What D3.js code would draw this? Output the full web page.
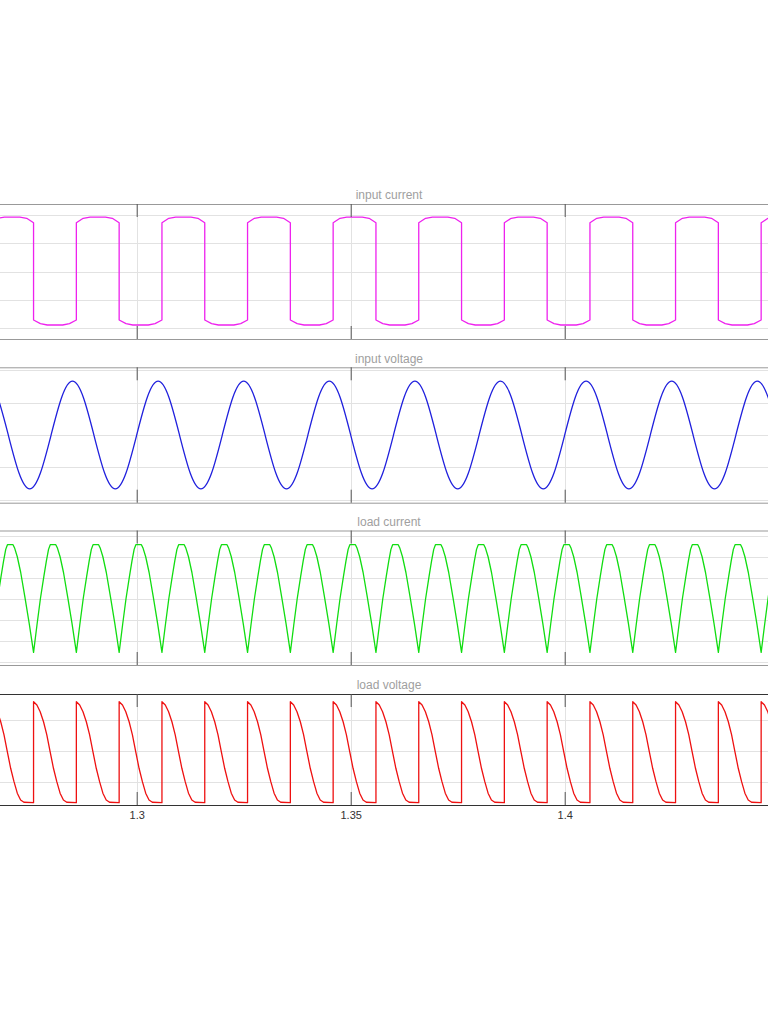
<!DOCTYPE html>
<html>
<head>
<meta charset="utf-8">
<script src="https://cdn.jsdelivr.net/npm/d3@7"></script>
<style>
  html, body { margin: 0; padding: 0; background: #fff; }
  svg { display: block; font-family: "Liberation Sans", Arial, sans-serif; }
</style>
</head>
<body>
<div id="scope"></div>
<script>
// switching instants (s): commutation of the input current, dips of the load
// current and jumps of the load voltage all happen here
const edgeTimes = [1.2659, 1.2759, 1.2859, 1.2959, 1.3059, 1.3159, 1.3259, 1.3359, 1.3459, 1.3559,
                   1.3659, 1.3759, 1.3859, 1.3959, 1.4059, 1.4159, 1.4259, 1.4359, 1.4459, 1.4559];

// input current (A): shape of one half-cycle between two edges
const currentPhase = [0, 0.16, 0.32, 0.68, 0.84, 1];
const currentHigh  = [17.4, 19.0, 19.4, 19.4, 19.0, 17.4];
const currentLow   = [-17.3, -18.6, -19.1, -19.1, -18.6, -17.3];

// input voltage (V): rising zero crossings, one mains period sampled every 1/8
const voltageStarts = [1.26, 1.28, 1.30, 1.32, 1.34, 1.36, 1.38, 1.40, 1.42, 1.44, 1.46];
const voltagePhase  = [0, 0.125, 0.25, 0.375, 0.5, 0.625, 0.75, 0.875];
const voltageValues = [0, 235, 333, 235, 0, -235, -333, -235];

// load current (A): one ripple between two dips
const loadCurrentPhase  = [0, 0.08, 0.16, 0.24, 0.30, 0.35, 0.39, 0.52, 0.56, 0.62, 0.70, 0.80, 0.90, 1];
const loadCurrentValues = [0.9, 3.5, 6.0, 8.1, 9.6, 10.7, 11.15, 11.15, 10.8, 10.0, 8.5, 6.1, 3.6, 0.9];

// load voltage (V): from one firing jump to the next
const loadVoltagePhase  = [0, 0.078, 0.155, 0.233, 0.31, 0.388, 0.465, 0.543, 0.62, 0.698, 0.775, 1];
const loadVoltageValues = [358.8, 348, 326.5, 294.5, 252, 198, 145, 102, 65, 43, 36, 34.5];

const panelTitles = ["input current", "input voltage", "load current", "load voltage"];
const panelTicks = [[-20, -10, 0, 10, 20], [-400, -200, 0, 200, 400], [0, 2, 4, 6, 8, 10, 12], [100, 200, 300]];
const panelDomains = [[-24.1, 24.1], [-419, 419], [-0.31, 12.5], [27.1, 383.5]];
const timeTicks = [1.25, 1.3, 1.35, 1.4, 1.45];

// lay a measured cycle shape between consecutive instants
function buildSeries(starts, phase, values) {
  const pts = [];
  for (let i = 0; i < starts.length - 1; i++) {
    const t0 = starts[i], span = starts[i + 1] - t0;
    const vals = typeof values === "function" ? values(i) : values;
    phase.forEach((p, j) => pts.push([t0 + p * span, vals[j]]));
  }
  return pts;
}

const inputCurrent = buildSeries(edgeTimes, currentPhase, i => (i % 2 === 0 ? currentHigh : currentLow));
const inputVoltage = buildSeries(voltageStarts, voltagePhase, voltageValues);
inputVoltage.push([voltageStarts[voltageStarts.length - 1], voltageValues[0]]);
const loadCurrent = buildSeries(edgeTimes, loadCurrentPhase, loadCurrentValues);
const loadVoltage = buildSeries(edgeTimes, loadVoltagePhase, loadVoltageValues);

const panels = [
  { data: inputCurrent, top: 204, bottom: 339, color: "#ee22ee", curve: d3.curveLinear, border: "#999" },
  { data: inputVoltage, top: 367.3, bottom: 502.7, color: "#2020dd", curve: d3.curveNatural, border: "#999" },
  { data: loadCurrent, top: 530.5, bottom: 665, color: "#11dd11", curve: d3.curveLinear, border: "#999" },
  { data: loadVoltage, top: 694, bottom: 805, color: "#ee1111", curve: d3.curveLinear, border: "#333" }
];

const width = 768, height = 1024;

const svg = d3.select("#scope")
  .append("svg")
  .attr("width", width)
  .attr("height", height);

// figure is wider than the window: 1.3 s sits at x=136.7 and 0.1 s spans 428 px
const x = d3.scaleLinear()
  .domain([1.25, 1.47])
  .range([136.7 - 0.05 * 4280, 136.7 + 0.17 * 4280]);
const [x0, x1] = x.range();

// only the ticks that fall inside the window get a label
const timeLabel = d => (x(d) > 0 && x(d) < width ? d3.format("")(d) : "");

panels.forEach((p, k) => {
  const y = d3.scaleLinear().domain(panelDomains[k]).range([p.bottom, p.top]);
  const g = svg.append("g");

  // horizontal grid
  g.append("g")
    .attr("transform", `translate(${x0},0)`)
    .call(d3.axisLeft(y).tickValues(panelTicks[k]).tickSize(-(x1 - x0)).tickFormat(""))
    .call(a => a.select(".domain").remove())
    .call(a => a.selectAll("line").attr("stroke", "#e2e2e2").attr("shape-rendering", "crispEdges"));

  // vertical grid
  g.append("g")
    .attr("transform", `translate(0,${p.bottom})`)
    .call(d3.axisBottom(x).tickValues(timeTicks).tickSize(-(p.bottom - p.top)).tickFormat(""))
    .call(a => a.select(".domain").remove())
    .call(a => a.selectAll("line").attr("stroke", "#e2e2e2").attr("shape-rendering", "crispEdges"));

  g.append("path")
    .datum(p.data)
    .attr("fill", "none")
    .attr("stroke", p.color)
    .attr("stroke-width", 1.3)
    .attr("stroke-linejoin", "round")
    .attr("d", d3.line().x(d => x(d[0])).y(d => y(d[1])).curve(p.curve));

  // frame with inward ticks
  g.append("g")
    .attr("transform", `translate(0,${p.top})`)
    .attr("color", p.border)
    .call(d3.axisTop(x).tickValues(timeTicks).tickSizeInner(-13).tickSizeOuter(0).tickFormat(""))
    .call(a => a.selectAll(".tick line").attr("stroke", "#555"));

  const last = k === panels.length - 1;
  const bottomAxis = g.append("g")
    .attr("transform", `translate(0,${p.bottom})`)
    .attr("color", p.border)
    .call(d3.axisBottom(x).tickValues(timeTicks).tickSizeInner(-13).tickSizeOuter(0).tickPadding(6)
      .tickFormat(last ? timeLabel : ""))
    .call(a => a.selectAll(".tick line").attr("stroke", "#555"));
  bottomAxis.selectAll("text")
    .attr("fill", "#333")
    .style("font-size", "11px")
    .style("font-family", "\"Liberation Sans\", Arial, sans-serif");

  g.append("text")
    .attr("x", 389)
    .attr("y", p.top - 9)
    .attr("dy", "0.35em")
    .attr("text-anchor", "middle")
    .attr("fill", "#a0a0a0")
    .style("font-size", "12px")
    .text(panelTitles[k]);
});
</script>
</body>
</html>
